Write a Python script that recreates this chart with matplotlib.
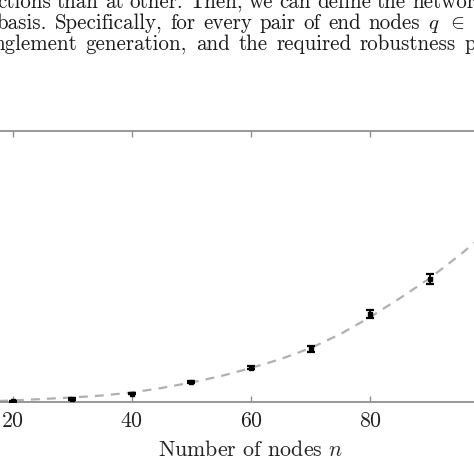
import matplotlib
matplotlib.use("Agg")
import matplotlib.pyplot as plt

plt.rcParams['font.family'] = ['cmr10', 'DejaVu Serif']
plt.rcParams['mathtext.fontset'] = 'cm'
plt.rcParams['axes.formatter.use_mathtext'] = True

# Data (y in arbitrary units)
nodes = [20, 30, 40, 50, 60, 70, 80, 90]
values = [0.01, 0.03, 0.085, 0.20, 0.345, 0.53, 0.88, 1.235]
errors = [0.005, 0.006, 0.008, 0.01, 0.015, 0.03, 0.04, 0.05]

fit_n = [15, 20, 25, 30, 35, 40, 45, 50, 55, 60, 65, 70, 75, 80, 85, 90, 95, 100, 105, 110]
fit_y = [0.005, 0.015, 0.03, 0.045, 0.065, 0.095, 0.14, 0.195, 0.26, 0.34, 0.43,
         0.54, 0.68, 0.85, 1.04, 1.24, 1.47, 1.72, 2.0, 2.3]

xticks = [20, 40, 60, 80]

paper_lines = [
    ["ctions", "than", "at", "other.", "Then,", "we", "can", "define", "the", "network"],
    ["basis.", "Specifically,", "for", "every", "pair", "of", "end", "nodes", r"$q$", r"$\in$"],
    ["nglement", "generation,", "and", "the", "required", "robustness", "p"],
]

W = 474.0
fig = plt.figure(figsize=(4.74, 4.74), dpi=100)

# axes geometry in pixels
left_px, right_px = -47.15, 549.35
bottom_px, top_px = 474 - 402, 474 - 131
ax = fig.add_axes([left_px / W, bottom_px / W, (right_px - left_px) / W, (top_px - bottom_px) / W])

ax.plot(fit_n, fit_y, color='#b0b0b0', lw=1.6, ls=(0, (4, 3.2)), zorder=1)
ax.errorbar(nodes, values, yerr=errors, fmt='s', color='black', ms=2.2,
            elinewidth=1.3, capsize=2.6, capthick=1.6, zorder=3)

ax.set_xlim(10, 110)
ax.set_ylim(0, 2.71)
ax.set_xticks(xticks)
ax.set_yticks([])
for s in ['left', 'right']:
    ax.spines[s].set_visible(False)
for s in ['top', 'bottom']:
    ax.spines[s].set_color('#8f8f8f')
    ax.spines[s].set_linewidth(1.3)
ax.tick_params(axis='x', direction='in', top=True, length=4, width=1, color='#8f8f8f',
               labelsize=15.8, pad=7, labelcolor='#222222')
ax.set_xlabel(r"Number of nodes $n$", fontsize=15.8, labelpad=6, color='#222222')

# paper text above the figure, justified like the source page
renderer = fig.canvas.get_renderer()
ys = [474 - 8, 474 - 29, 474 - 50]
starts = [-3, -3, -7]
last_starts = [412, 447, 465]
for words, y, x0, xl in zip(paper_lines, ys, starts, last_starts):
    texts = [fig.text(0, y / W, w, fontsize=15.1, ha='left', va='baseline', color='#1a1a1a')
             for w in words]
    widths = [t.get_window_extent(renderer).width for t in texts]
    gap = (xl - x0 - sum(widths[:-1])) / (len(words) - 1)
    x = x0
    for t, wd in zip(texts, widths):
        t.set_x(x / W)
        x += wd + gap

fig.savefig("out.png", dpi=100)
